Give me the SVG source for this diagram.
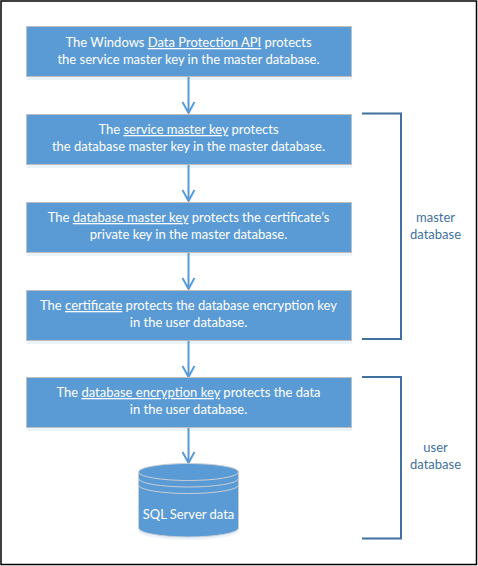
<svg xmlns="http://www.w3.org/2000/svg" width="478" height="566" viewBox="0 0 478 566">
<defs>
<style>
.box{fill:#5b9bd5;stroke:#bfbfbf;stroke-width:1}
.sh{fill:#5b9bd5;opacity:.12}
.t{font-family:Lato,"Liberation Sans",sans-serif;font-size:13px;fill:#fff;text-anchor:middle}
.u{text-decoration:underline}
.l{font-family:Lato,"Liberation Sans",sans-serif;font-size:13px;fill:#41719c;text-anchor:middle}
.c{fill:none;stroke:#5b9bd5;stroke-width:2}
.b{fill:none;stroke:#41719c;stroke-width:2}
.ring{fill:none;stroke:#c9ced4;stroke-width:1}
</style>
</defs>
<rect width="478" height="566" fill="#fff"/>
<rect x="1" y="1" width="475.500" height="563.500" fill="none" stroke="#000" stroke-width="1.500"/>
<g id="connectors">
<path class="c" d="M188.500 76V113M182.500 102L188.500 113L194.500 102"/>
<path class="c" d="M188.500 164V201M182.500 190L188.500 201L194.500 190"/>
<path class="c" d="M188.500 252V289M182.500 278L188.500 289L194.500 278"/>
<path class="c" d="M188.500 340V377M182.500 366L188.500 377L194.500 366"/>
<path class="c" d="M188.500 427V463M182.500 452L188.500 463L194.500 452"/>
</g>
<g id="node1"><rect class="sh" x="27" y="77" width="325" height="3"/><rect class="box" x="26.500" y="26.500" width="325" height="50"/>
<text class="t" x="188.500" y="47">The Windows <tspan class="u">Data Protection API</tspan> protects</text>
<text class="t" x="188.500" y="64">the service master key in the master database.</text></g>
<g id="node2"><rect class="sh" x="27" y="165" width="325" height="3"/><rect class="box" x="26.500" y="114.500" width="325" height="50"/>
<text class="t" x="188.500" y="134">The <tspan class="u">service master key</tspan> protects</text>
<text class="t" x="188.500" y="151">the database master key in the master database.</text></g>
<g id="node3"><rect class="sh" x="27" y="253" width="325" height="3"/><rect class="box" x="26.500" y="202.500" width="325" height="50"/>
<text class="t" x="188.500" y="222">The <tspan class="u">database master key</tspan> protects the certificate’s</text>
<text class="t" x="188.500" y="239">private key in the master database.</text></g>
<g id="node4"><rect class="sh" x="27" y="341" width="325" height="3"/><rect class="box" x="26.500" y="290.500" width="325" height="50"/>
<text class="t" x="188.500" y="310">The <tspan class="u">certificate</tspan> protects the database encryption key</text>
<text class="t" x="188.500" y="327">in the user database.</text></g>
<g id="node5"><rect class="sh" x="27" y="428" width="325" height="3"/><rect class="box" x="26.500" y="377.500" width="325" height="50"/>
<text class="t" x="188.500" y="397">The <tspan class="u">database encryption key</tspan> protects the data</text>
<text class="t" x="188.500" y="414">in the user database.</text></g>
<g id="node6">
<ellipse cx="188.500" cy="531" rx="50" ry="9" fill="#5b9bd5" opacity=".12"/>
<path d="M138.500 472A50 8.500 0 0 1 238.500 472V528A50 9 0 0 1 138.500 528Z" fill="#5b9bd5" stroke="#c9ced4" stroke-width="1"/>
<path class="ring" d="M138.500 472A50 8.500 0 0 0 238.500 472M138.500 478.500A50 8.500 0 0 0 238.500 478.500M138.500 485A50 8.500 0 0 0 238.500 485"/>
<text class="t" x="188.500" y="519">SQL Server data</text></g>
<g id="bracket-master"><path class="b" d="M362 113.500H401V339H362"/>
<text class="l" x="435.500" y="222">master</text><text class="l" x="435.500" y="239">database</text></g>
<g id="bracket-user"><path class="b" d="M362 377H401V538.500H362"/>
<text class="l" x="435.500" y="452">user</text><text class="l" x="435.500" y="469">database</text></g>
</svg>
